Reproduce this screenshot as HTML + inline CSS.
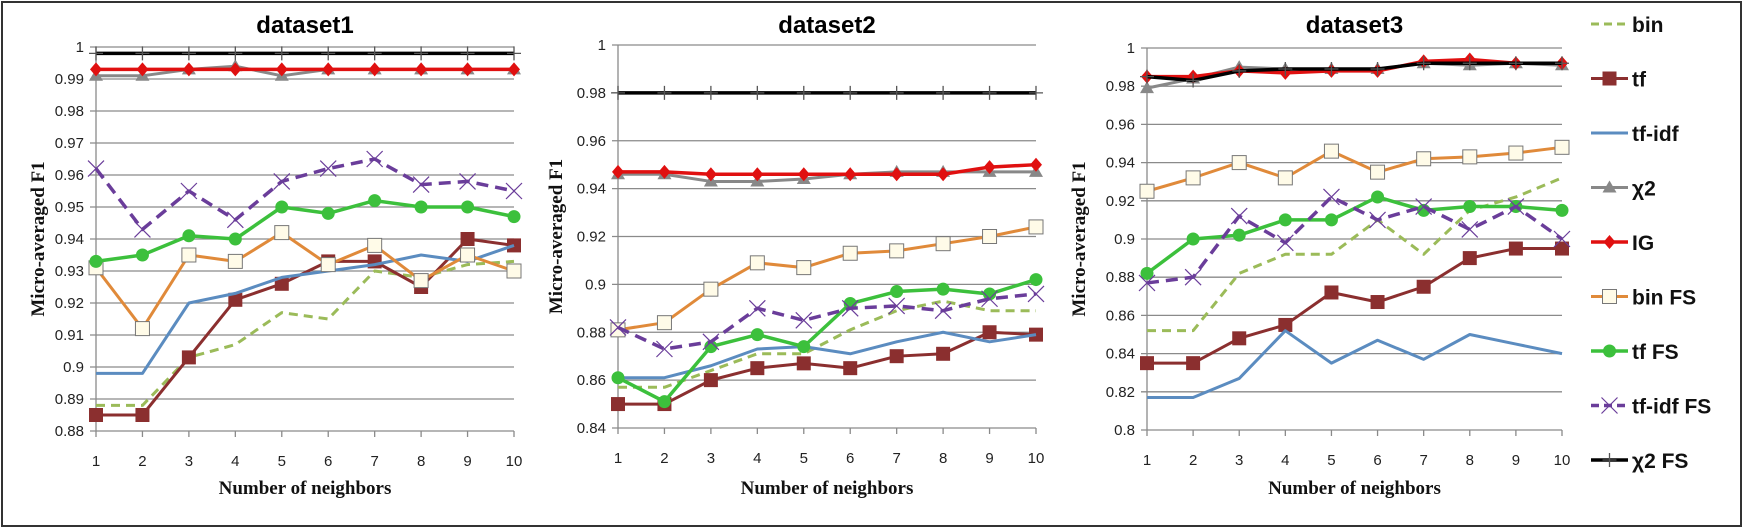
<!DOCTYPE html>
<html><head><meta charset="utf-8"><style>
body{margin:0;background:#fff;}
svg{display:block;}
.tk{font-family:"Liberation Sans",sans-serif;font-size:15px;fill:#222;}
.tt{font-family:"Liberation Sans",sans-serif;font-size:24px;font-weight:bold;fill:#000;}
.at{font-family:"Liberation Serif",serif;font-size:19px;font-weight:bold;fill:#111;}
.lg{font-family:"Liberation Sans",sans-serif;font-size:21px;font-weight:bold;fill:#111;}
</style></head><body>
<svg id="chart" width="1745" height="530" xmlns="http://www.w3.org/2000/svg">
<rect x="2" y="2" width="1739" height="524" fill="none" stroke="#333" stroke-width="2"/>
</svg>
<script>
const categories=[1,2,3,4,5,6,7,8,9,10];
const seriesNames=["bin","tf","tf-idf","χ2","IG","bin FS","tf FS","tf-idf FS","χ2 FS"];
const d1_bin=[0.888,0.888,0.903,0.907,0.917,0.915,0.930,0.928,0.932,0.933];
const d1_tf=[0.885,0.885,0.903,0.921,0.926,0.933,0.933,0.925,0.940,0.938];
const d1_tfidf=[0.898,0.898,0.920,0.923,0.928,0.930,0.932,0.935,0.933,0.938];
const d1_chi=[0.991,0.991,0.993,0.994,0.991,0.993,0.993,0.993,0.993,0.993];
const d1_ig=[0.993,0.993,0.993,0.993,0.993,0.993,0.993,0.993,0.993,0.993];
const d1_binfs=[0.931,0.912,0.935,0.933,0.942,0.932,0.938,0.927,0.935,0.930];
const d1_tffs=[0.933,0.935,0.941,0.940,0.950,0.948,0.952,0.950,0.950,0.947];
const d1_tfidffs=[0.962,0.943,0.955,0.946,0.958,0.962,0.965,0.957,0.958,0.955];
const d1_chifs=[0.998,0.998,0.998,0.998,0.998,0.998,0.998,0.998,0.998,0.998];
const d2_bin=[0.857,0.857,0.864,0.871,0.871,0.881,0.889,0.893,0.889,0.889];
const d2_tf=[0.850,0.850,0.860,0.865,0.867,0.865,0.870,0.871,0.880,0.879];
const d2_tfidf=[0.861,0.861,0.866,0.873,0.874,0.871,0.876,0.880,0.876,0.879];
const d2_chi=[0.946,0.946,0.943,0.943,0.944,0.946,0.947,0.947,0.947,0.947];
const d2_ig=[0.947,0.947,0.946,0.946,0.946,0.946,0.946,0.946,0.949,0.950];
const d2_binfs=[0.881,0.884,0.898,0.909,0.907,0.913,0.914,0.917,0.920,0.924];
const d2_tffs=[0.861,0.851,0.874,0.879,0.874,0.892,0.897,0.898,0.896,0.902];
const d2_tfidffs=[0.882,0.873,0.876,0.890,0.885,0.890,0.891,0.889,0.894,0.896];
const d2_chifs=[0.98,0.98,0.98,0.98,0.98,0.98,0.98,0.98,0.98,0.98];
const d3_bin=[0.852,0.852,0.882,0.892,0.892,0.910,0.892,0.915,0.922,0.932];
const d3_tf=[0.835,0.835,0.848,0.855,0.872,0.867,0.875,0.890,0.895,0.895];
const d3_tfidf=[0.817,0.817,0.827,0.852,0.835,0.847,0.837,0.850,0.845,0.840];
const d3_chi=[0.979,0.984,0.990,0.989,0.989,0.989,0.992,0.991,0.992,0.991];
const d3_ig=[0.985,0.985,0.988,0.987,0.988,0.988,0.993,0.994,0.992,0.992];
const d3_binfs=[0.925,0.932,0.940,0.932,0.946,0.935,0.942,0.943,0.945,0.948];
const d3_tffs=[0.882,0.900,0.902,0.910,0.910,0.922,0.915,0.917,0.917,0.915];
const d3_tfidffs=[0.877,0.880,0.912,0.898,0.922,0.910,0.917,0.905,0.917,0.900];
const d3_chifs=[0.985,0.983,0.988,0.989,0.989,0.989,0.992,0.992,0.992,0.992];
const ticks1=["0.88","0.89","0.9","0.91","0.92","0.93","0.94","0.95","0.96","0.97","0.98","0.99","1"];
const ticks2=["0.84","0.86","0.88","0.9","0.92","0.94","0.96","0.98","1"];
const ticks3=["0.8","0.82","0.84","0.86","0.88","0.9","0.92","0.94","0.96","0.98","1"];

const NS="http://www.w3.org/2000/svg";
const svg=document.getElementById('chart');
function mk(tag,attrs,parent){const e=document.createElementNS(NS,tag);for(const k in attrs)e.setAttribute(k,attrs[k]);(parent||svg).appendChild(e);return e;}
const styles=[
 {c:"#9bbb59",w:3,dash:"9,6",m:"none"},
 {c:"#8b2f2f",w:3,m:"square"},
 {c:"#5b8cc0",w:3,m:"none"},
 {c:"#888",w:3,m:"tri"},
 {c:"#e01010",w:3.5,m:"diamond"},
 {c:"#e08a3a",w:3,m:"osq"},
 {c:"#3cc03c",w:3.5,m:"circle"},
 {c:"#6a3d9a",w:3.5,dash:"12,7",m:"x"},
 {c:"#000",w:3.5,m:"plus"}];
function marker(g,m,x,y,c){
 if(m==="square")mk('rect',{x:x-7,y:y-7,width:14,height:14,fill:c},g);
 else if(m==="osq")mk('rect',{x:x-7,y:y-7,width:14,height:14,fill:"#fffbe8",stroke:"#777",'stroke-width':1},g);
 else if(m==="tri")mk('polygon',{points:`${x},${y-7} ${x+7},${y+5} ${x-7},${y+5}`,fill:c},g);
 else if(m==="diamond")mk('polygon',{points:`${x},${y-7} ${x+6},${y} ${x},${y+7} ${x-6},${y}`,fill:c},g);
 else if(m==="circle")mk('circle',{cx:x,cy:y,r:6.5,fill:c},g);
 else if(m==="x")mk('path',{d:`M${x-8},${y-8}L${x+8},${y+8}M${x+8},${y-8}L${x-8},${y+8}`,stroke:c,'stroke-width':1.2,fill:"none"},g);
 else if(m==="plus")mk('path',{d:`M${x-7},${y}L${x+7},${y}M${x},${y-7}L${x},${y+7}`,stroke:"#555",'stroke-width':1.3,fill:"none"},g);
}
function panel(o){
 const g=mk('g',{});
 
 
 const xs=i=>o.x0+(i-1)*(o.x1-o.x0)/9;
 const ys=v=>o.yb-(v-o.ymin)/(o.ymax-o.ymin)*(o.yb-o.yt);
 o.ticks.forEach(t=>{const y=ys(parseFloat(t));
  const l=mk('line',{x1:o.x0-6,x2:o.x1,y1:y,y2:y,stroke:"#8a8a8a",'stroke-width':1.3},g);
  
  
  const tx=mk('text',{x:o.x0-12,y:y+5,'text-anchor':'end',class:'tk'},g);tx.textContent=t;
  
  
 });
 mk('line',{x1:o.x0,x2:o.x0,y1:o.yt,y2:o.yb,stroke:"#8a8a8a",'stroke-width':1.3},g);
 categories.forEach(c=>{const x=xs(c);
  mk('line',{x1:x,x2:x,y1:o.yb,y2:o.yb+6,stroke:"#8a8a8a",'stroke-width':1.3},g);
  const tx=mk('text',{x:x,y:o.yb+35,'text-anchor':'middle',class:'tk'},g);tx.textContent=c;
  
  
 });
 const t=mk('text',{x:(o.x0+o.x1)/2,y:33,'text-anchor':'middle',class:'tt'},g);t.textContent=o.title;
 
 
 const xt=mk('text',{x:(o.x0+o.x1)/2,y:494,'text-anchor':'middle',class:'at'},g);xt.textContent="Number of neighbors";
 
 
 const yt=mk('text',{x:0,y:0,transform:`translate(${o.yx},${(o.yt+o.yb)/2}) rotate(-90)`,'text-anchor':'middle',class:'at'},g);yt.textContent="Micro-averaged F1";
 
 
 o.series.forEach((vals,si)=>{const s=styles[si];
  const sg=mk('g',{},g);
  
  
  const pts=vals.map((v,i)=>xs(categories[i])+','+ys(v)).join(' ');
  const pl=mk('polyline',{points:pts,fill:'none',stroke:s.c,'stroke-width':s.w,'stroke-linejoin':'round'},sg);
  if(s.dash)pl.setAttribute('stroke-dasharray',s.dash);
  vals.forEach((v,i)=>marker(sg,s.m,xs(categories[i]),ys(v),s.c));
 });
}
panel({name:'panel-dataset1',title:'dataset1',x0:96,x1:514,yt:47,yb:431,ymin:0.88,ymax:1,yx:44,ticks:ticks1,
 series:[d1_bin,d1_tf,d1_tfidf,d1_chi,d1_ig,d1_binfs,d1_tffs,d1_tfidffs,d1_chifs]});
panel({name:'panel-dataset2',title:'dataset2',x0:618,x1:1036,yt:45,yb:428,ymin:0.84,ymax:1,yx:562,ticks:ticks2,
 series:[d2_bin,d2_tf,d2_tfidf,d2_chi,d2_ig,d2_binfs,d2_tffs,d2_tfidffs,d2_chifs]});
panel({name:'panel-dataset3',title:'dataset3',x0:1147,x1:1562,yt:48,yb:430,ymin:0.8,ymax:1,yx:1085,ticks:ticks3,
 series:[d3_bin,d3_tf,d3_tfidf,d3_chi,d3_ig,d3_binfs,d3_tffs,d3_tfidffs,d3_chifs]});
// legend
const lg=mk('g',{});


seriesNames.forEach((n,i)=>{const y=24+i*54.5;const s=styles[i];
 const e=mk('g',{},lg);
 
 
 const l=mk('line',{x1:1591,x2:1628,y1:y,y2:y,stroke:s.c,'stroke-width':s.w},e);
 if(s.dash)l.setAttribute('stroke-dasharray','8,5');
 marker(e,s.m,1609.5,y,s.c);
 const t=mk('text',{x:1632,y:y+8,class:'lg'},e);t.textContent=n;
});
</script>
</body></html>
